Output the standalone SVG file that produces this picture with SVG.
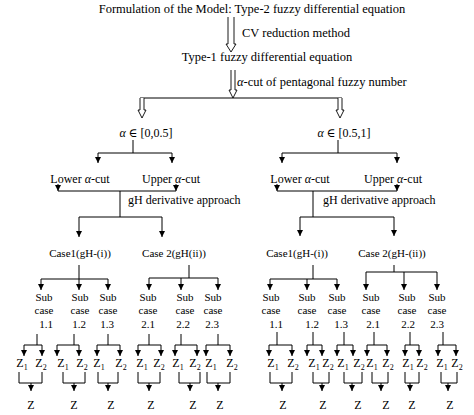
<svg xmlns="http://www.w3.org/2000/svg" width="474" height="415" viewBox="0 0 474 415" font-family="'Liberation Serif', 'DejaVu Serif', serif">
<style>
text{font-family:'Liberation Serif','DejaVu Serif',serif;fill:#000;}
.t{font-size:12.5px;}
.m{font-size:12px;}
.s{font-size:11px;}
.a{text-anchor:middle;}
.z{font-size:12px;text-anchor:middle;}
.sub{font-size:8px;}
.i{font-style:italic;}
.c line,.c path{stroke:#000;stroke-width:1;fill:none;}
.c .h{stroke-width:0.9;fill:#fff;}
.ar{marker-end:url(#ah);}
</style>
<defs>
<marker id="ah" markerWidth="6" markerHeight="6" refX="6" refY="3" orient="auto" markerUnits="userSpaceOnUse"><path d="M0,0 L6,3 L0,6 z" fill="#000"/></marker>
</defs>
<rect width="474" height="415" fill="#fff"/>

<g id="title"><text class="t a" x="252" y="13">Formulation of the Model: Type-2 fuzzy differential equation</text></g>
<g id="cv-label"><text class="t" x="242" y="37">CV reduction method</text></g>
<g id="type1"><text class="t a" x="267" y="61">Type-1 fuzzy differential equation</text></g>
<g id="alpha-label"><text class="t" x="237" y="86"><tspan class="i">α</tspan>-cut of pentagonal fuzzy number</text></g>

<g id="alpha-left"><text class="m a" x="146" y="137"><tspan class="i">α</tspan> ∈ [0,0.5]</text></g>
<g id="alpha-right"><text class="m a" x="344" y="137"><tspan class="i">α</tspan> ∈ [0.5,1]</text></g>

<g id="lower-left"><text class="m a" x="80" y="183">Lower <tspan class="i">α</tspan>-cut</text></g>
<g id="upper-left"><text class="m a" x="171" y="183">Upper <tspan class="i">α</tspan>-cut</text></g>
<g id="lower-right"><text class="m a" x="300" y="183">Lower <tspan class="i">α</tspan>-cut</text></g>
<g id="upper-right"><text class="m a" x="393" y="183">Upper <tspan class="i">α</tspan>-cut</text></g>

<g id="gh-left"><text class="m" x="128" y="204">gH derivative approach</text></g>
<g id="gh-right"><text class="m" x="323" y="204">gH derivative approach</text></g>

<g id="case1-left"><text class="s a" x="80" y="257">Case1(gH-(i))</text></g>
<g id="case2-left"><text class="s a" x="174" y="257">Case 2(gH(ii))</text></g>
<g id="case1-right"><text class="s a" x="297" y="257">Case1(gH-(i))</text></g>
<g id="case2-right"><text class="s a" x="392" y="257">Case 2(gH-(ii))</text></g>

<g id="subcases">
<g id="sub-l11"><text class="s a" x="44" y="301">Sub</text><text class="s a" x="44" y="314">case</text><text class="s a" x="46" y="328">1.1</text></g>
<g id="sub-l12"><text class="s a" x="80" y="301">Sub</text><text class="s a" x="80" y="314">case</text><text class="s a" x="79" y="328">1.2</text></g>
<g id="sub-l13"><text class="s a" x="108" y="301">Sub</text><text class="s a" x="108" y="314">case</text><text class="s a" x="107" y="328">1.3</text></g>
<g id="sub-l21"><text class="s a" x="148" y="301">Sub</text><text class="s a" x="148" y="314">case</text><text class="s a" x="148" y="328">2.1</text></g>
<g id="sub-l22"><text class="s a" x="185" y="301">Sub</text><text class="s a" x="185" y="314">case</text><text class="s a" x="183" y="328">2.2</text></g>
<g id="sub-l23"><text class="s a" x="213" y="301">Sub</text><text class="s a" x="213" y="314">case</text><text class="s a" x="212" y="328">2.3</text></g>
<g id="sub-r11"><text class="s a" x="271" y="301">Sub</text><text class="s a" x="271" y="314">case</text><text class="s a" x="276" y="328">1.1</text></g>
<g id="sub-r12"><text class="s a" x="307" y="301">Sub</text><text class="s a" x="307" y="314">case</text><text class="s a" x="312" y="328">1.2</text></g>
<g id="sub-r13"><text class="s a" x="337" y="301">Sub</text><text class="s a" x="337" y="314">case</text><text class="s a" x="341" y="328">1.3</text></g>
<g id="sub-r21"><text class="s a" x="371" y="301">Sub</text><text class="s a" x="371" y="314">case</text><text class="s a" x="373" y="328">2.1</text></g>
<g id="sub-r22"><text class="s a" x="407" y="301">Sub</text><text class="s a" x="407" y="314">case</text><text class="s a" x="408" y="328">2.2</text></g>
<g id="sub-r23"><text class="s a" x="437" y="301">Sub</text><text class="s a" x="437" y="314">case</text><text class="s a" x="437" y="328">2.3</text></g>
</g>

<g id="zs">
<g id="z-l11"><text class="z" x="22" y="367">Z<tspan class="sub" dy="3">1</tspan></text><text class="z" x="41" y="367">Z<tspan class="sub" dy="3">2</tspan></text><text class="z" x="31" y="409">Z</text></g>
<g id="z-l12"><text class="z" x="63" y="367">Z<tspan class="sub" dy="3">1</tspan></text><text class="z" x="82" y="367">Z<tspan class="sub" dy="3">2</tspan></text><text class="z" x="74" y="409">Z</text></g>
<g id="z-l13"><text class="z" x="99" y="367">Z<tspan class="sub" dy="3">1</tspan></text><text class="z" x="121" y="367">Z<tspan class="sub" dy="3">2</tspan></text><text class="z" x="111" y="409">Z</text></g>
<g id="z-l21"><text class="z" x="142" y="367">Z<tspan class="sub" dy="3">1</tspan></text><text class="z" x="159" y="367">Z<tspan class="sub" dy="3">2</tspan></text><text class="z" x="151" y="409">Z</text></g>
<g id="z-l22"><text class="z" x="178" y="367">Z<tspan class="sub" dy="3">1</tspan></text><text class="z" x="195" y="367">Z<tspan class="sub" dy="3">2</tspan></text><text class="z" x="193" y="409">Z</text></g>
<g id="z-l23"><text class="z" x="211" y="367">Z<tspan class="sub" dy="3">1</tspan></text><text class="z" x="232" y="367">Z<tspan class="sub" dy="3">2</tspan></text><text class="z" x="220" y="409">Z</text></g>
<g id="z-r11"><text class="z" x="273" y="367">Z<tspan class="sub" dy="3">1</tspan></text><text class="z" x="293" y="367">Z<tspan class="sub" dy="3">2</tspan></text><text class="z" x="283" y="409">Z</text></g>
<g id="z-r12"><text class="z" x="314" y="367">Z<tspan class="sub" dy="3">1</tspan></text><text class="z" x="328" y="367">Z<tspan class="sub" dy="3">2</tspan></text><text class="z" x="323" y="409">Z</text></g>
<g id="z-r13"><text class="z" x="343" y="367">Z<tspan class="sub" dy="3">1</tspan></text><text class="z" x="359" y="367">Z<tspan class="sub" dy="3">2</tspan></text><text class="z" x="358" y="409">Z</text></g>
<g id="z-r21"><text class="z" x="372" y="367">Z<tspan class="sub" dy="3">1</tspan></text><text class="z" x="388" y="367">Z<tspan class="sub" dy="3">2</tspan></text><text class="z" x="386" y="409">Z</text></g>
<g id="z-r22"><text class="z" x="408" y="367">Z<tspan class="sub" dy="3">1</tspan></text><text class="z" x="422" y="367">Z<tspan class="sub" dy="3">2</tspan></text><text class="z" x="412" y="409">Z</text></g>
<g id="z-r23"><text class="z" x="442" y="367">Z<tspan class="sub" dy="3">1</tspan></text><text class="z" x="457" y="367">Z<tspan class="sub" dy="3">2</tspan></text><text class="z" x="450" y="409">Z</text></g>
</g>

<g id="connectors" class="c">
<path class="h" d="M228,17 V44 H226 L231,52 L236,44 H234 V17"/>
<path class="h" d="M231,70 V90 H229 L233,98 L237,90 H235 V70"/>
<line x1="140" y1="98" x2="342" y2="98"/>
<path class="h" d="M140,98 V110 H138 L142,118 L146,110 H144 V98"/>
<path class="h" d="M338,98 V110 H336 L340,118 L344,110 H342 V98"/>
<line x1="133" y1="140" x2="133" y2="153"/>
<line x1="98" y1="153" x2="172" y2="153"/>
<line class="ar" x1="98" y1="153" x2="98" y2="163"/>
<line class="ar" x1="172" y1="153" x2="172" y2="163"/>
<line class="ar" x1="58" y1="184" x2="58" y2="191"/>
<line class="ar" x1="176" y1="184" x2="176" y2="191"/>
<line x1="58" y1="191" x2="176" y2="191"/>
<line x1="120" y1="191" x2="120" y2="217"/>
<line x1="79" y1="217" x2="162" y2="217"/>
<line class="ar" x1="79" y1="217" x2="79" y2="237"/>
<line class="ar" x1="162" y1="217" x2="162" y2="237"/>
<line x1="338" y1="140" x2="338" y2="153"/>
<line x1="282" y1="153" x2="397" y2="153"/>
<line class="ar" x1="282" y1="153" x2="282" y2="163"/>
<line class="ar" x1="397" y1="153" x2="397" y2="163"/>
<line class="ar" x1="277" y1="184" x2="277" y2="191"/>
<line class="ar" x1="397" y1="184" x2="397" y2="191"/>
<line x1="277" y1="191" x2="397" y2="191"/>
<line x1="313" y1="191" x2="313" y2="217"/>
<line x1="300" y1="217" x2="394" y2="217"/>
<line class="ar" x1="300" y1="217" x2="300" y2="236"/>
<line class="ar" x1="394" y1="217" x2="394" y2="236"/>
<line x1="79" y1="265" x2="79" y2="279"/>
<line x1="41" y1="279" x2="108" y2="279"/>
<line class="ar" x1="41" y1="279" x2="41" y2="290"/>
<line class="ar" x1="79" y1="279" x2="79" y2="290"/>
<line class="ar" x1="108" y1="279" x2="108" y2="290"/>
<line x1="189" y1="265" x2="189" y2="278"/>
<line x1="149" y1="278" x2="218" y2="278"/>
<line class="ar" x1="149" y1="278" x2="149" y2="290"/>
<line class="ar" x1="181" y1="278" x2="181" y2="290"/>
<line class="ar" x1="218" y1="278" x2="218" y2="290"/>
<line x1="313" y1="265" x2="313" y2="279"/>
<line x1="270" y1="279" x2="337" y2="279"/>
<line class="ar" x1="270" y1="279" x2="270" y2="290"/>
<line class="ar" x1="307" y1="279" x2="307" y2="290"/>
<line class="ar" x1="337" y1="279" x2="337" y2="290"/>
<line x1="394" y1="265" x2="394" y2="272"/>
<line x1="366" y1="272" x2="437" y2="272"/>
<line class="ar" x1="366" y1="272" x2="366" y2="290"/>
<line class="ar" x1="404" y1="272" x2="404" y2="290"/>
<line class="ar" x1="437" y1="272" x2="437" y2="290"/>
<path d="M37,334 V345 M24,345 H42"/><line class="ar" x1="24" y1="345" x2="24" y2="356"/><line class="ar" x1="42" y1="345" x2="42" y2="356"/><path d="M19,372 V383 H42 V372"/><line class="ar" x1="31" y1="383" x2="31" y2="391"/>
<path d="M74,334 V345 M57,345 H79"/><line class="ar" x1="57" y1="345" x2="57" y2="356"/><line class="ar" x1="79" y1="345" x2="79" y2="356"/><path d="M63,372 V383 H85 V372"/><line class="ar" x1="74" y1="383" x2="74" y2="391"/>
<path d="M108,334 V345 M97,345 H120"/><line class="ar" x1="97" y1="345" x2="97" y2="356"/><line class="ar" x1="120" y1="345" x2="120" y2="356"/><path d="M98,372 V383 H118 V372"/><line class="ar" x1="108" y1="383" x2="108" y2="391"/>
<path d="M149,334 V345 M138,345 H161"/><line class="ar" x1="138" y1="345" x2="138" y2="356"/><line class="ar" x1="161" y1="345" x2="161" y2="356"/><path d="M138,372 V383 H160 V372"/><line class="ar" x1="149" y1="383" x2="149" y2="391"/>
<path d="M181,334 V345 M175,345 H197"/><line class="ar" x1="175" y1="345" x2="175" y2="356"/><line class="ar" x1="197" y1="345" x2="197" y2="356"/><path d="M179,372 V383 H200 V372"/><line class="ar" x1="190" y1="383" x2="190" y2="391"/>
<path d="M218,334 V345 M206,345 H230"/><line class="ar" x1="206" y1="345" x2="206" y2="356"/><line class="ar" x1="230" y1="345" x2="230" y2="356"/><path d="M207,372 V383 H230 V372"/><line class="ar" x1="218" y1="383" x2="218" y2="391"/>
<path d="M277,332 V345 M269,345 H292"/><line class="ar" x1="269" y1="345" x2="269" y2="356"/><line class="ar" x1="292" y1="345" x2="292" y2="356"/><path d="M270,372 V383 H292 V372"/><line class="ar" x1="282" y1="383" x2="282" y2="391"/>
<path d="M313,332 V345 M307,345 H322"/><line class="ar" x1="307" y1="345" x2="307" y2="356"/><line class="ar" x1="322" y1="345" x2="322" y2="356"/><path d="M313,372 V383 H329 V372"/><line class="ar" x1="322" y1="383" x2="322" y2="391"/>
<path d="M344,332 V345 M337,345 H353"/><line class="ar" x1="337" y1="345" x2="337" y2="356"/><line class="ar" x1="353" y1="345" x2="353" y2="356"/><path d="M344,372 V383 H362 V372"/><line class="ar" x1="352" y1="383" x2="352" y2="391"/>
<path d="M374,332 V345 M367,345 H387"/><line class="ar" x1="367" y1="345" x2="367" y2="356"/><line class="ar" x1="387" y1="345" x2="387" y2="356"/><path d="M372,372 V383 H388 V372"/><line class="ar" x1="381" y1="383" x2="381" y2="391"/>
<path d="M410,332 V345 M405,345 H419"/><line class="ar" x1="405" y1="345" x2="405" y2="356"/><line class="ar" x1="419" y1="345" x2="419" y2="356"/><path d="M405,372 V383 H419 V372"/><line class="ar" x1="410" y1="383" x2="410" y2="391"/>
<path d="M443,332 V345 M438,345 H456"/><line class="ar" x1="438" y1="345" x2="438" y2="356"/><line class="ar" x1="456" y1="345" x2="456" y2="356"/><path d="M441,372 V383 H457 V372"/><line class="ar" x1="448" y1="383" x2="448" y2="391"/>
</g>
</svg>
